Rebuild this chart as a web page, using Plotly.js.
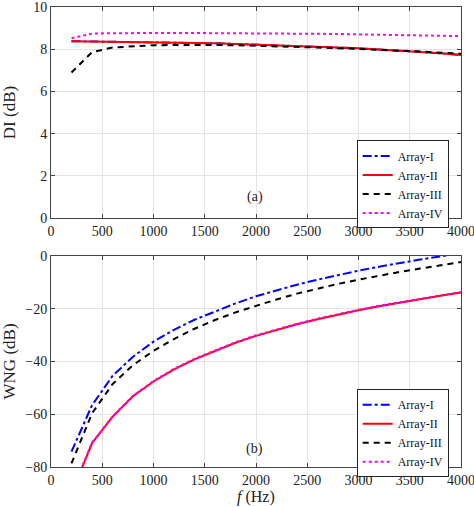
<!DOCTYPE html>
<html>
<head>
<meta charset="utf-8">
<script src="https://cdn.plot.ly/plotly-3.0.1.min.js"></script>
<style>
  html, body { margin: 0; padding: 0; background: #fff; }
  #chart { width: 474px; height: 507px; }
</style>
</head>
<body>
<div id="chart"></div>
<script>
// Frequency grid (Hz)
const freq = [200, 400, 600, 800, 1000, 1200, 1400, 1600, 1800, 2000,
              2200, 2400, 2600, 2800, 3000, 3200, 3400, 3600, 3800, 4000];

// Directivity index (dB)
const diArrayI   = [8.38, 8.37, 8.36, 8.35, 8.34, 8.32, 8.30, 8.28, 8.25, 8.22,
                    8.19, 8.15, 8.12, 8.08, 8.04, 7.99, 7.94, 7.88, 7.81, 7.73];
const diArrayII  = [8.38, 8.37, 8.36, 8.35, 8.34, 8.32, 8.30, 8.28, 8.25, 8.22,
                    8.19, 8.15, 8.12, 8.08, 8.04, 7.99, 7.94, 7.88, 7.81, 7.73];
const diArrayIII = [6.90, 7.86, 8.08, 8.15, 8.19, 8.20, 8.21, 8.20, 8.19, 8.17,
                    8.14, 8.11, 8.08, 8.05, 8.02, 7.98, 7.93, 7.89, 7.84, 7.79];
const diArrayIV  = [8.52, 8.74, 8.76, 8.77, 8.77, 8.77, 8.77, 8.76, 8.76, 8.75,
                    8.75, 8.74, 8.73, 8.72, 8.70, 8.69, 8.67, 8.66, 8.64, 8.62];

// White noise gain (dB)
const wngArrayI   = [-74.2, -56.6, -45.5, -38.2, -32.5, -28.0, -24.2, -21.0, -18.0, -15.3,
                     -13.0, -10.9, -9.0, -7.2, -5.6, -4.1, -2.7, -1.4, -0.2, 1.0];
const wngArrayII  = [-90.0, -71.0, -61.0, -53.2, -47.6, -43.0, -39.2, -35.9, -32.9, -30.3,
                     -28.0, -25.9, -24.0, -22.2, -20.6, -19.1, -17.7, -16.4, -15.1, -13.9];
const wngArrayIII = [-78.6, -59.7, -48.6, -41.4, -36.0, -31.5, -27.6, -24.3, -21.4, -18.8,
                     -16.5, -14.3, -12.4, -10.6, -9.0, -7.5, -6.1, -4.8, -3.5, -2.3];
const wngArrayIV  = [-89.8, -70.8, -60.8, -53.0, -47.4, -42.8, -39.0, -35.7, -32.7, -30.1,
                     -27.8, -25.7, -23.8, -22.0, -20.4, -18.9, -17.5, -16.2, -14.9, -13.7];

const names = ['Array-I', 'Array-II', 'Array-III', 'Array-IV'];
const styles = [
  {color: '#0000ff', dash: 'dashdot', width: 2},
  {color: '#ff0000', dash: 'solid',   width: 2},
  {color: '#000000', dash: '6px,5px', width: 2},
  {color: '#ff00ff', dash: 'dot',     width: 2}
];

const diSeries  = [diArrayI, diArrayII, diArrayIII, diArrayIV];
const wngSeries = [wngArrayI, wngArrayII, wngArrayIII, wngArrayIV];

const traces = [];
diSeries.forEach((ys, i) => traces.push({
  x: freq, y: ys, name: names[i], type: 'scatter', mode: 'lines',
  line: styles[i], xaxis: 'x', yaxis: 'y', legend: 'legend'
}));
wngSeries.forEach((ys, i) => traces.push({
  x: freq, y: ys, name: names[i], type: 'scatter', mode: 'lines',
  line: styles[i], xaxis: 'x2', yaxis: 'y2', legend: 'legend2'
}));

const serif = 'Liberation Serif, Times New Roman, serif';
const axisCommon = {
  showline: true, mirror: 'ticks', linecolor: '#444', linewidth: 1,
  ticks: 'inside', ticklen: 4, tickcolor: '#444',
  showgrid: true, gridcolor: '#e3e3e3', gridwidth: 1,
  zeroline: false, ticklabeloverflow: 'allow',
  tickfont: {family: serif, size: 14, color: '#222'}
};
const legendCommon = {
  xref: 'paper', yref: 'paper', xanchor: 'right', yanchor: 'top',
  bgcolor: '#ffffff', bordercolor: '#222', borderwidth: 1,
  font: {family: serif, size: 12, color: '#111'},
  tracegroupgap: 0, itemwidth: 30
};

const layout = {
  width: 474, height: 507,
  margin: {l: 51, r: 13, t: 7, b: 40},
  paper_bgcolor: '#ffffff', plot_bgcolor: '#ffffff',
  showlegend: true,
  xaxis: Object.assign({}, axisCommon, {
    domain: [0, 1], range: [0, 4000], dtick: 500, anchor: 'y'
  }),
  yaxis: Object.assign({}, axisCommon, {
    domain: [0.5411, 1], range: [0, 10], dtick: 2, anchor: 'x',
    title: {text: 'DI (dB)', font: {family: serif, size: 17, color: '#222'}}
  }),
  xaxis2: Object.assign({}, axisCommon, {
    domain: [0, 1], range: [0, 4000], dtick: 500, anchor: 'y2'
  }),
  yaxis2: Object.assign({}, axisCommon, {
    domain: [0, 0.4589], range: [-80, 0], dtick: 20, anchor: 'x2',
    title: {text: 'WNG (dB)', font: {family: serif, size: 17, color: '#222'}}
  }),
  legend: Object.assign({}, legendCommon, {x: 0.97, y: 0.71}),
  legend2: Object.assign({}, legendCommon, {x: 0.97, y: 0.169}),
  annotations: [
    // frequency axis label, sitting at the bottom edge of the figure
    {text: '<i>f</i> (Hz)', x: 0.5, y: -0.0865, xref: 'paper', yref: 'paper',
     xanchor: 'center', yanchor: 'bottom', showarrow: false, borderpad: 0,
     font: {family: serif, size: 16, color: '#222'}},
    {text: '(a)', x: 1990, y: 1.0, xref: 'x', yref: 'y', showarrow: false,
     font: {family: serif, size: 14, color: '#222'}},
    {text: '(b)', x: 1990, y: -73.2, xref: 'x2', yref: 'y2', showarrow: false,
     font: {family: serif, size: 14, color: '#222'}}
  ]
};

Plotly.newPlot('chart', traces, layout, {displayModeBar: false, staticPlot: true});
</script>
</body>
</html>
